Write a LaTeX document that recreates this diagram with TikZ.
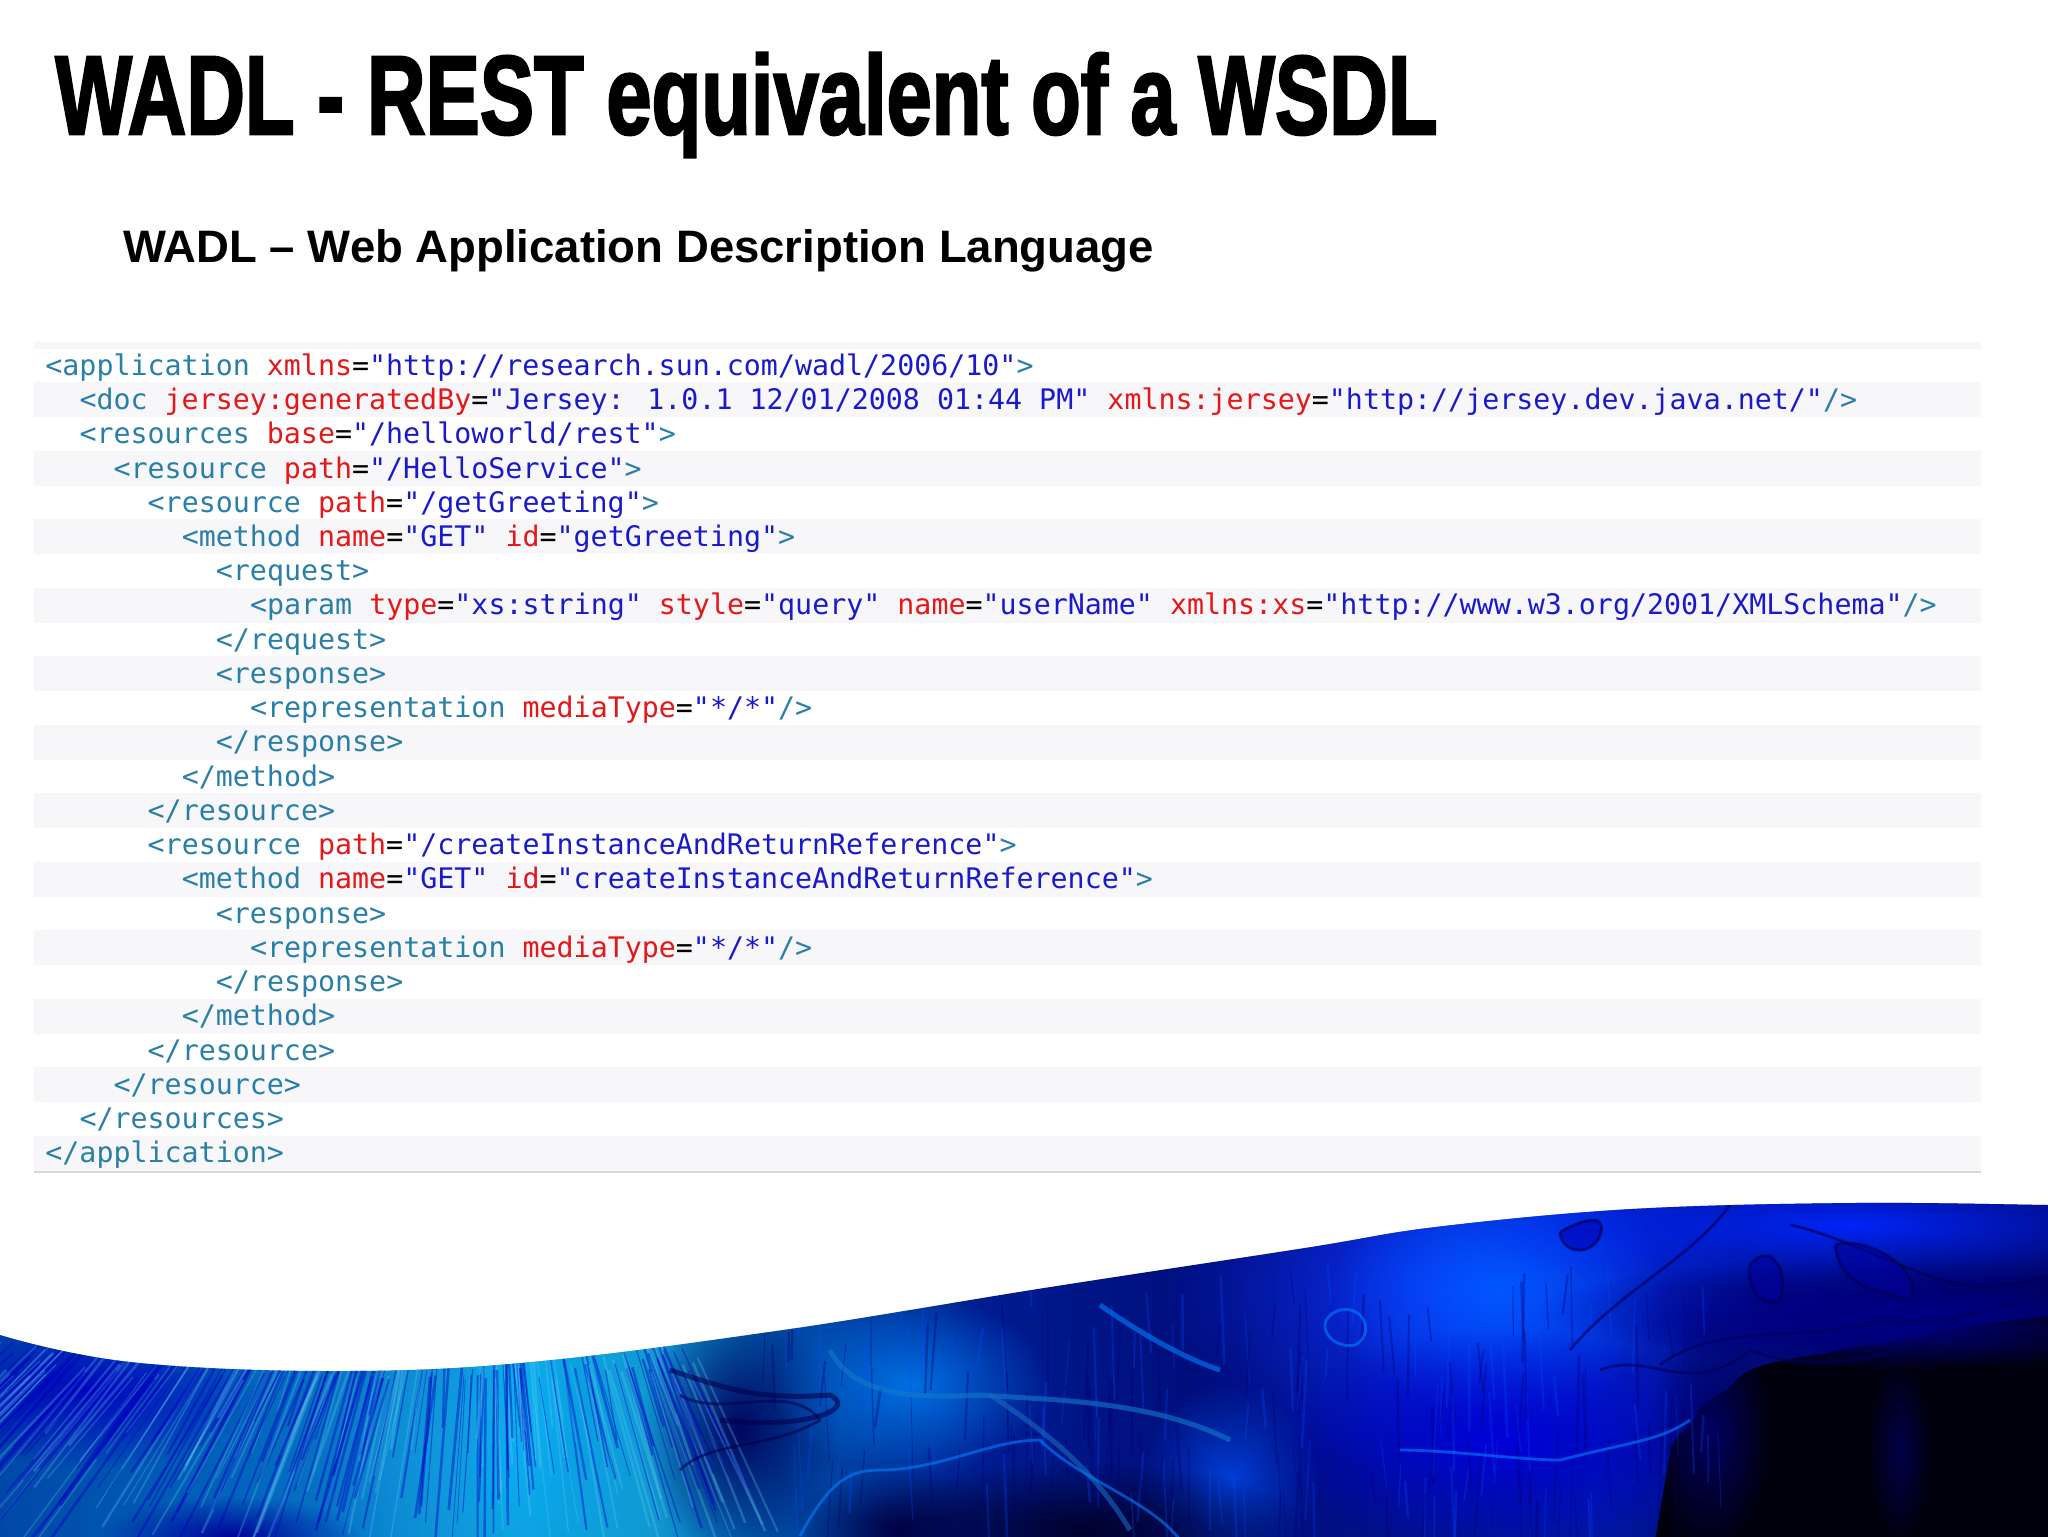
\documentclass[tikz,border=0pt]{standalone}
\usepackage{fontspec}
\usetikzlibrary{fadings}
\setmainfont{Liberation Sans}
\newfontfamily\codefont{DejaVu Sans Mono}
\newfontfamily\titlefont[FakeBold=2.4]{Liberation Sans Bold}
\definecolor{tagc}{HTML}{2A7FA8}
\definecolor{attc}{HTML}{E41818}
\definecolor{valc}{HTML}{1A1ACC}
\definecolor{bandc}{HTML}{F7F7F9}
\newcommand{\cT}[1]{\textcolor{tagc}{#1}}
\newcommand{\cA}[1]{\textcolor{attc}{#1}}
\newcommand{\cV}[1]{\textcolor{black}{=}\textcolor{valc}{#1}}
\newcommand{\coderow}[3]{\node[codeline] (row#1) at ({45+17.05*#2},{375.3+34.24*(#1-1)}) {#3};}
\newcommand{\bandrow}[1]{\fill[bandc] (34,{348+34.24*(#1-1)}) rectangle (1981,{383+34.24*(#1-1)});}
\tikzfading[name=softblob,inner color=transparent!5,outer color=transparent!100]
\newcommand{\blob}[5]{\fill[#5,path fading=softblob] (#1,#2) ellipse [x radius=#3,y radius=#4];}
\tikzset{
  codeline/.style={anchor=base west,inner sep=0pt,font=\codefont\fontsize{14.15}{17}\selectfont},
  titletext/.style={anchor=base west,inner sep=0pt,font=\titlefont\fontsize{56}{60}\selectfont,xscale=0.726,transform shape},
  subtitle/.style={anchor=base west,inner sep=0pt,font=\bfseries\fontsize{22.75}{28}\selectfont},
}
\definecolor{s0}{HTML}{0048A8}
\definecolor{s1}{HTML}{0060B8}
\definecolor{s2}{HTML}{0878C8}
\definecolor{s3}{HTML}{10A8D8}
\definecolor{s4}{HTML}{1098D0}
\definecolor{s5}{HTML}{0050A8}
\definecolor{s6}{HTML}{001C90}
\definecolor{s7}{HTML}{000C78}
\definecolor{s8}{HTML}{0018A0}
\definecolor{s9}{HTML}{000050}
% pgf shows the part 25bp..75bp of the shading across the path
\pgfdeclarehorizontalshading{seabase}{100bp}{
  color(0bp)=(s0);
  color(25bp)=(s0);
  color(30bp)=(s1);
  color(34bp)=(s2);
  color(38bp)=(s3);
  color(41bp)=(s4);
  color(44bp)=(s5);
  color(49bp)=(s6);
  color(55bp)=(s7);
  color(64bp)=(s8);
  color(72bp)=(s9);
  color(75bp)=(s9);
  color(100bp)=(s9)}
\begin{document}
\begin{tikzpicture}[x=0.5pt,y=-0.5pt]
\useasboundingbox (0,0) rectangle (2048,1536);
\fill[white] (0,0) rectangle (2048,1536);
% --- wave ---
\begin{scope}
\clip plot[smooth,tension=.6] coordinates {(-20,1318) (0,1335) (130,1362) (326,1371) (522,1363) (783,1330) (1044,1288) (1305,1248) (1436,1227) (1632,1209) (1854,1203) (2048,1205) (2070,1206)} -- (2070,1540) -- (-20,1540) -- cycle;
\shade[shading=seabase] (0,1190) rectangle (2048,1536);
% big soft areas
\blob{1460}{1290}{300}{190}{blue!85!cyan!95}
\blob{1500}{1290}{170}{130}{blue!65!cyan}
\blob{1850}{1225}{400}{70}{blue!85!cyan}
\blob{1880}{1310}{340}{50}{blue!55!black}
\blob{1500}{1440}{240}{110}{blue!85!black}
\blob{500}{1450}{190}{190}{cyan!85!blue!95}
\blob{540}{1430}{110}{170}{cyan!90!blue}
\blob{520}{1420}{60}{140}{cyan!95!white}
\blob{90}{1390}{170}{80}{blue!75!black}
\blob{740}{1430}{100}{130}{blue!35!black}
\blob{910}{1385}{140}{90}{blue!50!cyan!90!black}
\blob{1230}{1480}{90}{100}{blue!70!cyan!85!black}
\blob{1080}{1530}{230}{70}{blue!15!black}
\blob{230}{1536}{130}{40}{blue!60!black}
\blob{900}{1530}{110}{60}{blue!25!black}
% black region
\fill[blue!6!black] (2070,1313) -- (1958,1327) .. controls (1900,1345) and (1850,1345) .. (1828,1353) .. controls (1780,1360) and (1750,1365) .. (1736,1380) .. controls (1720,1400) and (1700,1400) .. (1697,1413) .. controls (1690,1430) and (1680,1430) .. (1671,1447) -- (1655,1540) -- (2070,1540) -- cycle;
\blob{1900}{1330}{260}{40}{blue!50!black}
\blob{1710}{1430}{60}{120}{blue!40!black}
\blob{1900}{1450}{30}{90}{blue!30!black}
% streaks: fan in the cyan part
\pgfmathsetseed{4711}
\foreach \i in {1,...,300}{
  \pgfmathsetmacro{\xa}{rnd*740-40}
  \pgfmathsetmacro{\ya}{1340+rnd*40}
  \pgfmathsetmacro{\frac}{0.35+rnd*0.65}
  \pgfmathsetmacro{\xc}{\xa+(\xa-490)*0.42*\frac+rnd*16-8}
  \pgfmathsetmacro{\yc}{\ya+\frac*190}
  \pgfmathsetmacro{\w}{rnd*1.0+.4}
  \pgfmathsetmacro{\sel}{rnd}
  \ifdim\sel pt<0.62pt
    \draw[blue!75!black,line width=\w,opacity=.42] (\xa,\ya) -- (\xc,\yc);
  \else
    \draw[cyan!60!white,line width=\w,opacity=.28] (\xa,\ya) -- (\xc,\yc);
  \fi
}
% short vertical streaks on the dark right side
\foreach \i in {1,...,220}{
  \pgfmathsetmacro{\xa}{760+rnd*960}
  \pgfmathsetmacro{\ya}{1260+rnd*240}
  \pgfmathsetmacro{\yb}{\ya+30+rnd*70}
  \pgfmathsetmacro{\w}{rnd*1.0+.4}
  \pgfmathsetmacro{\sel}{rnd}
  \ifdim\sel pt<0.55pt
    \draw[blue!45!black,line width=\w,opacity=.35] (\xa,\ya) -- ({\xa+rnd*12-6},\yb);
  \else
    \draw[blue!70!cyan,line width=\w,opacity=.28] (\xa,\ya) -- ({\xa+rnd*12-6},\yb);
  \fi
}
% contour ribbons
\tikzset{ribbon/.style={line width=1.4pt,opacity=.6,line join=round}}
\draw[ribbon,blue!30!black] (1790,1225) .. controls (1840,1235) and (1900,1270) .. (1960,1285) .. controls (2000,1290) and (2030,1280) .. (2060,1275);
\draw[ribbon,blue!30!black,fill=blue!70!black] (1560,1232) .. controls (1590,1215) and (1610,1215) .. (1598,1240) .. controls (1585,1258) and (1560,1250) .. (1560,1232);
\draw[ribbon,blue!30!black,fill=blue!60!black] (1835,1245) .. controls (1860,1235) and (1925,1265) .. (1910,1300) .. controls (1880,1290) and (1840,1290) .. (1835,1245);
\draw[ribbon,blue!30!black,fill=blue!60!black] (1750,1265) .. controls (1770,1240) and (1790,1270) .. (1780,1300) .. controls (1765,1310) and (1745,1290) .. (1750,1265);
\draw[ribbon,blue!35!black] (1570,1350) .. controls (1620,1290) and (1690,1260) .. (1730,1205);
\draw[ribbon,blue!35!black] (1660,1365) .. controls (1720,1320) and (1800,1345) .. (1880,1320) .. controls (1930,1330) and (1990,1310) .. (2060,1290);
\draw[ribbon,blue!35!black] (1600,1370) .. controls (1650,1350) and (1690,1400) .. (1750,1350) .. controls (1800,1370) and (1880,1370) .. (1960,1320);
\draw[ribbon,blue!50!cyan,line width=2.5pt] (1100,1305) .. controls (1150,1340) and (1190,1360) .. (1220,1370);
\draw[ribbon,blue!50!cyan] (1340,1310) .. controls (1310,1320) and (1330,1350) .. (1355,1345) .. controls (1375,1335) and (1365,1305) .. (1340,1310);
\draw[ribbon,blue!30!black,line width=2.5pt] (670,1370) .. controls (730,1390) and (760,1400) .. (830,1395) .. controls (860,1410) and (800,1430) .. (720,1420);
\draw[ribbon,blue!30!black] (680,1395) .. controls (720,1420) and (790,1380) .. (820,1420) .. controls (770,1450) and (710,1440) .. (680,1470);
\draw[ribbon,cyan!60!blue,line width=2.5pt] (830,1350) .. controls (850,1390) and (900,1400) .. (980,1395) .. controls (1050,1400) and (1150,1400) .. (1230,1440);
\draw[ribbon,cyan!45!blue,line width=2.5pt] (990,1395) .. controls (1060,1440) and (1100,1480) .. (1130,1530);
\draw[ribbon,blue!50!cyan] (800,1536) .. controls (830,1480) and (850,1470) .. (880,1470) .. controls (940,1470) and (990,1440) .. (1040,1440) .. controls (1080,1480) and (1150,1500) .. (1180,1540);
\draw[ribbon,blue!50!cyan] (1400,1450) .. controls (1450,1450) and (1520,1460) .. (1560,1460) .. controls (1640,1440) and (1660,1440) .. (1690,1420);
\end{scope}
% --- title ---
\node[titletext] (title) at (55,134) {WADL - REST equivalent of a WSDL};
\node[subtitle] (sub) at (123,262) {WADL – Web Application Description Language};
% --- code panel ---
\fill[bandc] (34,342) rectangle (1981,349);
\foreach \r in {2,4,...,24}{\bandrow{\r}}
\draw[black!15,line width=.8pt] (34,1172) -- (1981,1172);
\coderow{1}{0}{\cT{<application}~\cA{xmlns}\cV{"http://research.sun.com/wadl/2006/10"}\cT{>}}
\coderow{2}{2}{\cT{<doc}~\cA{jersey:generatedBy}\cV{"Jersey: 1.0.1 12/01/2008 01:44 PM"}~\cA{xmlns:jersey}\cV{"http://jersey.dev.java.net/"}\cT{/>}}
\coderow{3}{2}{\cT{<resources}~\cA{base}\cV{"/helloworld/rest"}\cT{>}}
\coderow{4}{4}{\cT{<resource}~\cA{path}\cV{"/HelloService"}\cT{>}}
\coderow{5}{6}{\cT{<resource}~\cA{path}\cV{"/getGreeting"}\cT{>}}
\coderow{6}{8}{\cT{<method}~\cA{name}\cV{"GET"}~\cA{id}\cV{"getGreeting"}\cT{>}}
\coderow{7}{10}{\cT{<request>}}
\coderow{8}{12}{\cT{<param}~\cA{type}\cV{"xs:string"}~\cA{style}\cV{"query"}~\cA{name}\cV{"userName"}~\cA{xmlns:xs}\cV{"http://www.w3.org/2001/XMLSchema"}\cT{/>}}
\coderow{9}{10}{\cT{</request>}}
\coderow{10}{10}{\cT{<response>}}
\coderow{11}{12}{\cT{<representation}~\cA{mediaType}\cV{"*/*"}\cT{/>}}
\coderow{12}{10}{\cT{</response>}}
\coderow{13}{8}{\cT{</method>}}
\coderow{14}{6}{\cT{</resource>}}
\coderow{15}{6}{\cT{<resource}~\cA{path}\cV{"/createInstanceAndReturnReference"}\cT{>}}
\coderow{16}{8}{\cT{<method}~\cA{name}\cV{"GET"}~\cA{id}\cV{"createInstanceAndReturnReference"}\cT{>}}
\coderow{17}{10}{\cT{<response>}}
\coderow{18}{12}{\cT{<representation}~\cA{mediaType}\cV{"*/*"}\cT{/>}}
\coderow{19}{10}{\cT{</response>}}
\coderow{20}{8}{\cT{</method>}}
\coderow{21}{6}{\cT{</resource>}}
\coderow{22}{4}{\cT{</resource>}}
\coderow{23}{2}{\cT{</resources>}}
\coderow{24}{0}{\cT{</application>}}
\end{tikzpicture}
\end{document}
